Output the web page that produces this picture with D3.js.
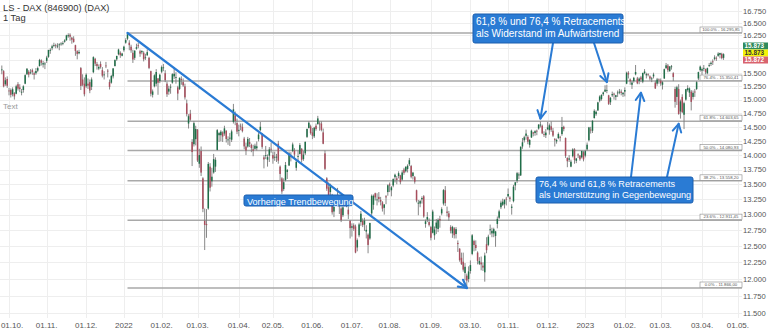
<!DOCTYPE html>
<html><head><meta charset="utf-8">
<script src="https://cdn.jsdelivr.net/npm/d3@7"></script>
<style>html,body{margin:0;padding:0;background:#fff;}svg{display:block;font-family:"Liberation Sans",Arial,sans-serif;}</style>
</head><body>
<svg id="c" width="768" height="333"></svg>
<script>
// ---- DATA: daily candles [day, open, high, low, close] per month ----
const sep2021=[[27,15560,15650,15480,15573],[28,15540,15560,15230,15249],[29,15290,15420,15260,15365],[30,15390,15440,15220,15261]];
const oct2021=[[1,15170,15220,15080,15156],[4,15180,15210,15040,15090],[5,15100,15230,15060,15195],[6,15120,15140,15000,15060],[7,15110,15280,15100,15250],[8,15290,15330,15170,15206],[11,15230,15290,15140,15199],[12,15140,15200,15080,15147],[13,15180,15270,15130,15250],[14,15300,15480,15290,15463],[15,15480,15600,15470,15587],[18,15530,15560,15420,15474],[19,15510,15580,15480,15516],[20,15560,15590,15470,15523],[21,15500,15530,15380,15472],[22,15500,15600,15470,15543],[25,15550,15630,15520,15599],[26,15640,15780,15630,15757],[27,15750,15770,15650,15705],[28,15670,15740,15610,15696],[29,15680,15720,15580,15688]];
const nov2021=[[1,15740,15840,15700,15806],[2,15820,15960,15800,15954],[3,15940,15990,15880,15959],[4,15990,16060,15950,16029],[5,16050,16100,16010,16054],[8,16050,16080,15990,16046],[9,16030,16090,15990,16040],[10,16050,16090,15950,16067],[11,16080,16110,16040,16083],[12,16090,16130,16050,16094],[15,16120,16170,16100,16148],[16,16150,16260,16140,16248],[17,16230,16290,16200,16251],[18,16260,16290,16140,16221],[19,16200,16220,16080,16160],[22,16180,16230,16100,16116],[23,16050,16060,15840,15937],[24,15930,15950,15770,15878],[25,15890,15960,15870,15917],[26,15600,15620,15180,15257],[29,15380,15480,15250,15280],[30,15300,15420,15060,15100]];
const dec2021=[[1,15250,15500,15220,15472],[2,15300,15400,15200,15263],[3,15330,15380,15120,15170],[6,15240,15420,15180,15381],[7,15520,15830,15500,15813],[8,15780,15800,15640,15687],[9,15680,15720,15570,15639],[10,15590,15670,15560,15623],[13,15680,15730,15590,15622],[14,15560,15620,15420,15453],[15,15470,15540,15380,15476],[16,15650,15720,15600,15636],[17,15550,15580,15420,15532],[20,15330,15380,15190,15239],[21,15320,15470,15300,15448],[22,15440,15600,15400,15593],[23,15640,15770,15630,15756],[27,15770,15840,15740,15838],[28,15870,15980,15850,15964],[29,15900,15930,15800,15853],[30,15840,15900,15830,15885]];
const jan2022=[[3,15950,16040,15920,16021],[4,16100,16190,16080,16152],[5,16180,16295,16150,16271],[6,16100,16150,15950,16052],[7,16020,16060,15900,15948],[10,15900,15960,15700,15768],[11,15800,15950,15760,15941],[12,15980,16080,15960,16010],[13,16050,16100,15990,16031],[14,15930,15960,15820,15883],[17,15910,15950,15870,15934],[18,15900,15930,15730,15772],[19,15800,15880,15760,15810],[20,15850,15970,15840,15912],[21,15800,15820,15580,15603],[24,15540,15550,15060,15110],[25,15090,15190,15040,15153],[26,15250,15480,15230,15460],[27,15300,15580,15250,15524],[28,15400,15410,15090,15318],[31,15350,15490,15310,15471]];
const feb2022=[[1,15530,15650,15500,15619],[2,15600,15680,15540,15613],[3,15500,15560,15330,15368],[4,15300,15340,15050,15100],[7,15150,15260,15090,15206],[8,15230,15290,15110,15242],[9,15320,15500,15300,15482],[10,15440,15620,15390,15490],[11,15420,15520,15300,15425],[14,15230,15260,14990,15113],[15,15200,15420,15180,15412],[16,15390,15440,15280,15370],[17,15330,15400,15240,15268],[18,15250,15300,15000,15042],[21,14930,15000,14690,14731],[22,14560,14730,14470,14693],[23,14740,14810,14610,14631],[24,14230,14280,13810,14052],[25,14190,14600,14150,14567],[28,14280,14520,14170,14461]];
const mar2022=[[1,14450,14460,13880,13905],[2,13850,14110,13780,14000],[3,14070,14150,13640,13698],[4,13600,13620,13040,13094],[7,12900,13100,12440,12835],[8,12850,13090,12630,12831],[9,13100,13880,13080,13847],[10,13800,13860,13380,13443],[11,13550,13780,13460,13628],[14,13700,14020,13680,13929],[15,13800,13960,13710,13917],[16,14090,14460,14080,14441],[17,14350,14410,14230,14388],[18,14350,14440,14240,14413],[21,14400,14420,14230,14326],[22,14380,14520,14340,14473],[23,14430,14440,14220,14283],[24,14260,14330,14180,14274],[25,14290,14390,14160,14306],[28,14270,14450,14230,14418],[29,14590,14920,14560,14820],[30,14710,14780,14530,14606],[31,14570,14650,14370,14415]];
const apr2022=[[1,14430,14540,14330,14446],[4,14520,14560,14440,14519],[5,14500,14560,14400,14424],[6,14290,14320,14100,14152],[7,14150,14220,14000,14079],[8,14150,14320,14130,14284],[11,14230,14300,14140,14193],[12,14180,14200,14050,14124],[13,14100,14180,13980,14076],[14,14110,14200,14090,14164],[19,14120,14240,14080,14153],[20,14280,14400,14240,14362],[21,14440,14590,14420,14502],[22,14380,14390,14110,14143],[25,13960,14000,13770,13924],[26,14000,14160,13930,14001],[27,13920,14010,13800,13963],[28,13990,14140,13880,14098],[29,14110,14220,14040,14098]];
const may2022=[[2,14000,14060,13850,13940],[3,13970,14060,13900,13970],[4,13960,14020,13880,13971],[5,14200,14250,13850,13903],[6,13800,13820,13570,13675],[9,13600,13620,13340,13380],[10,13420,13600,13390,13535],[11,13570,13880,13550,13828],[12,13710,13760,13590,13740],[13,13820,14060,13810,14027],[16,13990,14050,13890,13964],[17,14070,14220,14050,14186],[18,14080,14120,13950,14008],[19,13780,13930,13730,13882],[20,13980,14080,13880,13982],[23,14020,14210,14010,14175],[24,14110,14120,13870,13919],[25,13930,14070,13900,14008],[26,14030,14240,14000,14231],[27,14320,14470,14300,14462],[30,14480,14600,14470,14575],[31,14510,14540,14360,14388]];
const jun2022=[[1,14400,14480,14280,14340],[2,14330,14500,14300,14485],[3,14520,14560,14430,14460],[6,14550,14700,14540,14653],[7,14560,14600,14430,14556],[8,14560,14600,14420,14445],[9,14400,14470,14190,14198],[10,14030,14080,13740,13762],[13,13600,13620,13390,13427],[14,13450,13530,13280,13304],[15,13370,13510,13250,13483],[16,13300,13340,13000,13038],[17,13050,13170,12960,13126],[20,13200,13300,13150,13265],[21,13320,13440,13280,13292],[22,13170,13220,13010,13144],[23,13100,13120,12880,12912],[24,12990,13130,12960,13118],[27,13190,13260,13150,13186],[28,13210,13290,13120,13231],[29,13080,13130,12930,13003],[30,12900,12910,12620,12784]];
const jul2022=[[1,12790,12860,12650,12813],[4,12830,12860,12740,12773],[5,12810,12840,12390,12401],[6,12480,12620,12420,12594],[7,12670,12870,12640,12843],[8,12880,13060,12820,13015],[11,12900,12940,12800,12832],[12,12840,12950,12740,12905],[13,12730,12830,12620,12756],[14,12680,12700,12390,12519],[15,12620,12870,12600,12865],[18,13020,13330,12970,13308],[19,13160,13330,13080,13308],[20,13350,13360,13230,13282],[21,13240,13350,13150,13247],[22,13290,13370,13200,13254],[25,13240,13290,13150,13211],[26,13200,13220,13050,13097],[27,13110,13170,13000,13166],[28,13300,13320,13170,13282],[29,13370,13500,13310,13484]];
const aug2022=[[1,13500,13530,13370,13479],[2,13400,13470,13300,13449],[3,13480,13600,13450,13587],[4,13620,13680,13530,13662],[5,13600,13640,13500,13574],[8,13640,13720,13600,13688],[9,13650,13660,13500,13535],[10,13580,13740,13560,13700],[11,13750,13780,13660,13694],[12,13720,13810,13700,13795],[15,13760,13840,13700,13816],[16,13840,13950,13810,13910],[17,13810,13830,13600,13627],[18,13640,13710,13580,13697],[19,13620,13640,13510,13544],[22,13400,13410,13200,13230],[23,13180,13240,12990,13194],[24,13180,13240,13120,13221],[25,13250,13300,13180,13271],[26,13300,13320,12950,12971],[29,12850,12920,12790,12892],[30,12920,13040,12880,12961],[31,12880,12940,12810,12835]];
const sep2022=[[1,12800,12820,12590,12631],[2,12710,13080,12700,13050],[5,12670,12810,12600,12761],[6,12780,12930,12690,12872],[7,12770,12940,12720,12916],[8,12930,12980,12790,12905],[9,13020,13120,12990,13088],[12,13180,13420,13150,13403],[13,13400,13470,13140,13189],[14,13050,13130,12970,13028],[15,13020,13060,12900,12956],[16,12800,12830,12700,12741],[19,12700,12820,12630,12803],[20,12780,12800,12620,12671],[21,12690,12800,12620,12767],[22,12550,12590,12410,12532],[23,12460,12470,12260,12284],[26,12320,12400,12210,12227],[27,12260,12400,12110,12140],[28,12090,12240,11980,12183],[29,12050,12080,11866,11976],[30,12000,12190,11950,12114]];
const oct2022=[[3,12120,12280,12080,12209],[4,12380,12690,12360,12670],[5,12580,12600,12420,12517],[6,12520,12590,12430,12471],[7,12400,12420,12220,12273],[10,12230,12330,12210,12272],[11,12250,12340,12130,12219],[12,12200,12250,12120,12172],[13,12100,12400,11960,12355],[14,12530,12640,12390,12438],[17,12520,12680,12500,12649],[18,12750,12840,12680,12765],[19,12700,12790,12640,12741],[20,12700,12790,12640,12767],[21,12660,12740,12490,12731],[24,12850,12970,12780,12931],[25,12950,13080,12930,13053],[26,13120,13230,13090,13195],[27,13160,13260,13140,13211],[28,13170,13250,13100,13243],[31,13260,13290,13150,13253]];
const nov2022=[[1,13300,13430,13280,13338],[2,13280,13300,13210,13256],[3,13110,13170,13000,13130],[4,13220,13490,13200,13460],[7,13480,13540,13400,13533],[8,13560,13710,13520,13688],[9,13650,13700,13590,13666],[10,13650,14150,13640,14146],[11,14150,14300,14110,14224],[14,14260,14340,14220,14313],[15,14340,14450,14270,14379],[16,14320,14350,14190,14234],[17,14180,14280,14130,14266],[18,14310,14450,14300,14431],[21,14400,14410,14330,14380],[22,14390,14440,14340,14422],[23,14430,14450,14350,14428],[24,14470,14550,14450,14539],[25,14530,14600,14490,14541],[28,14520,14540,14370,14383],[29,14370,14420,14320,14355],[30,14350,14460,14300,14397]];
const dec2022=[[1,14460,14590,14440,14490],[2,14440,14560,14360,14529],[5,14510,14600,14410,14448],[6,14430,14480,14320,14343],[7,14280,14300,14150,14261],[8,14240,14290,14200,14264],[9,14300,14400,14280,14371],[12,14320,14340,14240,14306],[13,14370,14680,14340,14497],[14,14500,14520,14420,14460],[15,14300,14310,13950,13986],[16,13950,13960,13790,13893],[19,13920,14000,13880,13942],[20,13800,13920,13790,13885],[21,13980,14120,13960,14098],[22,14100,14120,13850,13914],[23,13900,13950,13860,13940],[27,14010,14030,13950,13995],[28,13990,14000,13900,13926],[29,13960,14080,13940,14071],[30,14050,14070,13890,13924]];
const jan2023=[[2,13990,14090,13960,14069],[3,14100,14220,14080,14181],[4,14260,14500,14240,14490],[5,14450,14500,14380,14436],[6,14430,14620,14390,14610],[9,14660,14820,14650,14792],[10,14730,14800,14700,14774],[11,14800,14960,14790,14948],[12,14980,15080,14950,15058],[13,15010,15100,14980,15086],[16,15100,15150,15070,15134],[17,15150,15270,15140,15187],[18,15170,15280,15120,15181],[19,15080,15090,14900,14920],[20,14950,15050,14900,15033],[23,15080,15150,15050,15103],[24,15110,15130,15000,15093],[25,15050,15090,14990,15082],[26,15120,15170,15050,15132],[27,15130,15200,15100,15150],[30,15150,15190,15080,15126],[31,15100,15140,15050,15128]];
const feb2023=[[1,15150,15230,15060,15180],[2,15300,15530,15290,15509],[3,15510,15540,15400,15476],[6,15380,15400,15280,15345],[7,15280,15360,15200,15321],[8,15350,15430,15320,15412],[9,15480,15660,15460,15523],[10,15400,15430,15290,15307],[13,15350,15420,15290,15397],[14,15420,15450,15330,15380],[15,15340,15510,15310,15507],[16,15500,15580,15480,15534],[17,15460,15510,15400,15482],[20,15480,15500,15440,15478],[21,15440,15460,15360,15398],[22,15400,15430,15330,15400],[23,15440,15510,15400,15475],[24,15320,15360,15200,15210],[27,15300,15410,15260,15381],[28,15380,15400,15300,15365]];
const mar2023=[[1,15360,15400,15260,15305],[2,15280,15350,15190,15327],[3,15400,15590,15390,15578],[6,15600,15700,15580,15654],[7,15650,15680,15520,15559],[8,15540,15640,15530,15631],[9,15620,15660,15570,15633],[10,15500,15520,15350,15428],[13,15200,15240,14850,14959],[14,15050,15260,14900,15232],[15,15200,15290,14720,14735],[16,14780,15000,14650,14967],[17,15050,15100,14750,14768],[20,14720,14960,14460,14933],[21,15000,15200,14980,15195],[22,15180,15270,15150,15216],[23,15130,15230,15050,15210],[24,15150,15180,14800,14957],[27,15050,15170,15000,15128],[28,15150,15200,15050,15142],[29,15200,15350,15180,15329],[30,15400,15530,15370,15522],[31,15560,15650,15530,15629]];
const apr2023=[[3,15550,15610,15470,15581],[4,15600,15660,15540,15603],[5,15580,15590,15480,15520],[6,15500,15610,15480,15598],[11,15650,15700,15620,15656],[12,15680,15730,15640,15703],[13,15730,15770,15660,15729],[14,15780,15850,15750,15808],[17,15800,15830,15740,15789],[18,15840,15910,15820,15883],[19,15860,15900,15790,15896],[20,15880,15900,15770,15795],[21,15800,15890,15760,15872]];
const monthTable=[[2021,9,sep2021],[2021,10,oct2021],[2021,11,nov2021],[2021,12,dec2021],[2022,1,jan2022],[2022,2,feb2022],[2022,3,mar2022],[2022,4,apr2022],[2022,5,may2022],[2022,6,jun2022],[2022,7,jul2022],[2022,8,aug2022],[2022,9,sep2022],[2022,10,oct2022],[2022,11,nov2022],[2022,12,dec2022],[2023,1,jan2023],[2023,2,feb2023],[2023,3,mar2023],[2023,4,apr2023]];

// Axis ticks
const xTickDates=["2021-10-01","2021-11-01","2021-12-01","2022-01-03","2022-02-01","2022-03-01","2022-04-01","2022-05-02","2022-06-01","2022-07-01","2022-08-01","2022-09-01","2022-10-03","2022-11-01","2022-12-01","2023-01-02","2023-02-01","2023-03-01","2023-04-03","2023-05-03"];
const xTickLabels=["01.10.","01.11.","01.12.","2022","01.02.","01.03.","01.04.","02.05.","01.06.","01.07.","01.08.","01.09.","03.10.","01.11.","01.12.","2023","01.02.","01.03.","03.04.","01.05."];
const yTicks=[11500,11750,12000,12250,12500,12750,13000,13250,13500,13750,14000,14250,14500,14750,15000,15250,15500,15750,16000,16250,16500,16750];

// Fibonacci retracement
const fibLevels=["100.0%","76.4%","61.8%","50.0%","38.2%","23.6%","0.0%"];
const fibValues=[16295.85,15350.41,14603.65,14080.93,13558.20,12911.45,11866.00];
const trendFrom={date:"2022-01-05",value:16295.85};
const trendTo={date:"2022-09-29",value:11866.00};

// Quote boxes
const quoteLabels=["15.873","15.873","15.872"];

// Annotations
const noteResist=["61,8 % und 76,4 % Retracements","als Widerstand im Aufwärtstrend"];
const noteSupport=["76,4 % und 61,8 % Retracements","als Unterstützung in Gegenbewegung"];
const noteTrend="Vorherige Trendbewegung";
const resistTargets=[{date:"2022-11-25",value:14650},{date:"2023-01-18",value:15330}];
const supportTargets=[{date:"2023-02-14",value:15130},{date:"2023-03-15",value:14555}];

// ---- BUILD ----
const candles=[];
monthTable.forEach(([y,m,rows])=>rows.forEach(r=>candles.push({date:new Date(y,m-1,r[0]),o:r[1],h:r[2],l:r[3],c:r[4]})));
const keyFmt=d3.timeFormat("%Y-%m-%d");
candles.forEach((d,i)=>{d.i=i;d.key=keyFmt(d.date);});
const byKey=new Map(candles.map(d=>[d.key,d.i]));
function idxOf(s){
  if(byKey.has(s)) return byKey.get(s);
  const last=candles[candles.length-1].date, t=d3.timeParse("%Y-%m-%d")(s);
  const days=d3.timeDay.range(d3.timeDay.offset(last,1),d3.timeDay.offset(t,1)).filter(d=>d.getDay()%6!==0);
  return candles.length-1+days.length;
}

const svg=d3.select("#c");
const plotRight=742,plotBottom=318;
const x=d3.scaleLinear().domain([idxOf("2021-10-01"),idxOf("2023-04-03")]).range([9,702]);
const y=d3.scaleLog().domain([11866,16295.85]).range([288,33]);
const loc=d3.formatLocale({decimal:",",thousands:".",grouping:[3],currency:["",""]});
const f0=loc.format(",.0f"), f2=loc.format(",.2f");

const blue="#2a7bd4", blueDark="#1b5fae";

// grid
const g=svg.append("g");
g.selectAll("line.vg").data(xTickDates).join("line").attr("class","vg")
 .attr("x1",d=>Math.round(x(idxOf(d)))+0.5).attr("x2",d=>Math.round(x(idxOf(d)))+0.5)
 .attr("y1",0).attr("y2",plotBottom).attr("stroke","#eeeeee").attr("stroke-width",1);
g.selectAll("line.hg").data(yTicks).join("line").attr("class","hg")
 .attr("x1",0).attr("x2",plotRight).attr("y1",d=>Math.round(y(d))+0.5).attr("y2",d=>Math.round(y(d))+0.5)
 .attr("stroke","#eeeeee").attr("stroke-width",1);

// fib lines
const fx0=x(idxOf(trendFrom.date));
svg.append("g").selectAll("line").data(fibValues).join("line")
 .attr("x1",fx0).attr("x2",plotRight).attr("y1",d=>y(d)).attr("y2",d=>y(d))
 .attr("stroke","#a9a9a9").attr("stroke-width",1.5);

// candles
const up="#1f6e48", down="#a84d5c";
const cg=svg.append("g");
cg.selectAll("line").data(candles).join("line")
 .attr("x1",d=>x(d.i)).attr("x2",d=>x(d.i)).attr("y1",d=>y(d.h)).attr("y2",d=>y(d.l))
 .attr("stroke","#7a7a7a").attr("stroke-width",0.9);
cg.selectAll("rect").data(candles).join("rect")
 .attr("x",d=>x(d.i)-0.75).attr("width",1.5)
 .attr("y",d=>y(Math.max(d.o,d.c))).attr("height",d=>Math.max(0.8,Math.abs(y(d.o)-y(d.c))))
 .attr("fill",d=>d.c>=d.o?up:down);

// arrow helper
function arrow(x1,y1,x2,y2,w){
  const a=Math.atan2(y2-y1,x2-x1), L=9, s=0.5;
  svg.append("line").attr("x1",x1).attr("y1",y1).attr("x2",x2).attr("y2",y2)
   .attr("stroke",blue).attr("stroke-width",w).attr("stroke-linecap","round");
  svg.append("path").attr("d",`M${x2-L*Math.cos(a-s)},${y2-L*Math.sin(a-s)}L${x2},${y2}L${x2-L*Math.cos(a+s)},${y2-L*Math.sin(a+s)}`)
   .attr("fill","none").attr("stroke",blue).attr("stroke-width",w).attr("stroke-linecap","round").attr("stroke-linejoin","round");
}
arrow(x(idxOf(trendFrom.date)),y(trendFrom.value),x(idxOf(trendTo.date)),y(trendTo.value),2.2);

function box(x0,y0,w,h,lines,fs,lh){
  const gg=svg.append("g");
  gg.append("rect").attr("x",x0).attr("y",y0).attr("width",w).attr("height",h).attr("rx",2)
   .attr("fill",blue).attr("stroke",blueDark).attr("stroke-width",1);
  lines.forEach((t,i)=>gg.append("text").attr("x",x0+3).attr("y",y0+fs+0.5+i*lh)
   .attr("font-size",fs).attr("fill","#fff").text(t));
}
const rTails=[[553,43],[594,43]];
resistTargets.forEach((t,i)=>arrow(rTails[i][0],rTails[i][1],x(idxOf(t.date)),y(t.value),2));
const sTails=[[631,177],[667,177]];
supportTargets.forEach((t,i)=>arrow(sTails[i][0],sTails[i][1],x(idxOf(t.date)),y(t.value),2));
box(473,14,150,29,noteResist,10,12);
box(536,177,157,26,noteSupport,9.1,11);
box(244,195,109,11,[noteTrend],9.1,11);

// fib labels
const fl=svg.append("g");
fibValues.forEach((v,i)=>{
  const t=`${fibLevels[i]} - ${f2(v)}`;
  fl.append("rect").attr("x",700).attr("y",y(v)-6).attr("width",42).attr("height",5.5)
    .attr("fill","#fff").attr("stroke","#888").attr("stroke-width",0.6);
  fl.append("text").attr("x",721).attr("y",y(v)-1.9).attr("text-anchor","middle")
    .attr("font-size",4.3).attr("fill","#555").text(t);
});

// quote boxes (cover the two labels beneath them, as in the reference)
const qTop=42.5,qH=7;
const qCols=[["#2f8a5b","#fff"],["#f4f40a","#333"],["#d9636e","#fff"]];
svg.append("g").selectAll("text").data(yTicks.filter(d=>y(d)<qTop-2||y(d)>qTop+3*qH+2)).join("text")
 .attr("x",743).attr("y",d=>y(d)+2.8).attr("font-size",7.6).attr("fill","#555").text(d=>f0(d));
quoteLabels.forEach((t,i)=>{
  const yy=qTop+i*qH;
  svg.append("rect").attr("x",743).attr("y",yy).attr("width",25).attr("height",qH).attr("fill",qCols[i][0]);
  svg.append("text").attr("x",744.5).attr("y",yy+5.6).attr("font-size",6.4).attr("font-weight","bold").attr("fill",qCols[i][1]).text(t);
});

// x axis labels (first one kept inside the left edge)
svg.append("g").selectAll("text").data(xTickDates).join("text")
 .attr("x",d=>Math.max(12,x(idxOf(d)))).attr("y",328).attr("text-anchor","middle").attr("font-size",8).attr("fill","#555")
 .text((d,i)=>xTickLabels[i]);

// header
svg.append("text").attr("x",3).attr("y",11).attr("font-size",9.3).attr("fill","#333").text("LS - DAX (846900) (DAX)");
svg.append("text").attr("x",3).attr("y",21).attr("font-size",9.3).attr("fill","#333").text("1 Tag");
svg.append("text").attr("x",3).attr("y",109).attr("font-size",8).attr("fill","#999").text("Text");
</script>
</body></html>
